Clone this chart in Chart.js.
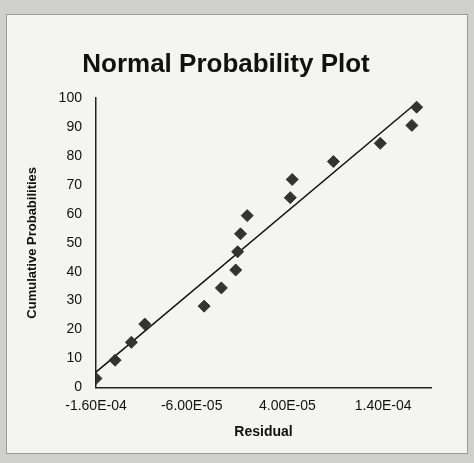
<!DOCTYPE html>
<html>
<head>
<meta charset="UTF-8">
<script src="https://cdn.jsdelivr.net/npm/chart.js"></script>
<style>
  body { margin:0; background:#cfd0cc; width:474px; height:463px; overflow:hidden; }
  #box { position:absolute; left:6px; top:14px; width:460px; height:438px; background:#f4f4f2; border:1px solid #9a9a98; }
</style>
</head>
<body>
<div id="box"><canvas id="grafico" width="460" height="438"></canvas></div>
<script>
const residuals = [-1.60e-4, -1.40e-4, -1.23e-4, -1.09e-4, -4.7e-5, -2.9e-5, -1.4e-5, -1.2e-5,
                   -9e-6, -2e-6, 4.3e-5, 4.5e-5, 8.8e-5, 1.37e-4, 1.70e-4, 1.75e-4];
const probabilities = [3.1, 9.4, 15.6, 21.9, 28.1, 34.4, 40.6, 46.9, 53.1, 59.4, 65.6, 71.9, 78.1, 84.4, 90.6, 96.9];
const xMin = -1.6e-4, xMax = 1.9e-4, xStep = 5e-5;

// trendline by least squares
const n = residuals.length;
const mx = residuals.reduce((s, v) => s + v, 0) / n;
const my = probabilities.reduce((s, v) => s + v, 0) / n;
let sxy = 0, sxx = 0;
for (let i = 0; i < n; i++) { sxy += (residuals[i] - mx) * (probabilities[i] - my); sxx += (residuals[i] - mx) ** 2; }
const slope = sxy / sxx, icpt = my - slope * mx;
const x0 = Math.min(...residuals), x1 = Math.max(...residuals);

function fmt(v) {
  let [m, e] = v.toExponential(2).toUpperCase().split('E');
  const sign = e[0] === '-' ? '-' : '+';
  e = e.replace(/[+-]/, '').padStart(2, '0');
  return m + 'E' + sign + e;
}

new Chart(document.getElementById('grafico'), {
  type: 'scatter',
  data: {
    datasets: [
      { data: residuals.map((x, i) => ({ x: x, y: probabilities[i] })),
        pointStyle: 'rectRot', pointRadius: 6, backgroundColor: '#333', borderColor: '#333' },
      { type: 'line', data: [{ x: x0, y: slope * x0 + icpt }, { x: x1, y: slope * x1 + icpt }],
        borderColor: '#111', borderWidth: 1.5, pointRadius: 0, fill: false }
    ]
  },
  options: {
    responsive: false, animation: false,
    layout: { padding: { left: 14, right: 36, top: 14, bottom: 8 } },
    plugins: {
      legend: { display: false }, tooltip: { enabled: false },
      title: { display: true, text: 'Normal Probability Plot', color: '#111',
               font: { family: 'Liberation Sans', size: 26, weight: 'bold' }, padding: { top: 20, bottom: 18 } }
    },
    scales: {
      x: { type: 'linear', min: xMin, max: xMax,
           grid: { display: false, drawTicks: true, tickLength: 6, color: '#222' },
           border: { color: '#222', width: 1.5 },
           ticks: { stepSize: xStep, color: '#111', maxRotation: 0, autoSkip: false, padding: 4,
                    font: { family: 'Liberation Sans', size: 14 },
                    callback: v => (Math.round((v - xMin) / xStep) % 2 === 0 ? fmt(v) : '') },
           title: { display: true, text: 'Residual', color: '#111', padding: { top: 6 },
                    font: { family: 'Liberation Sans', size: 14, weight: 'bold' } } },
      y: { min: 0, max: 100,
           grid: { display: false, drawTicks: true, tickLength: 6 },
           border: { color: '#222', width: 1.5 },
           ticks: { stepSize: 10, color: '#111', padding: 8, font: { family: 'Liberation Sans', size: 14 } },
           title: { display: true, text: 'Cumulative Probabilities', color: '#111', padding: { bottom: 10 },
                    font: { family: 'Liberation Sans', size: 13, weight: 'bold' } } }
    }
  }
});
</script>
</body>
</html>
